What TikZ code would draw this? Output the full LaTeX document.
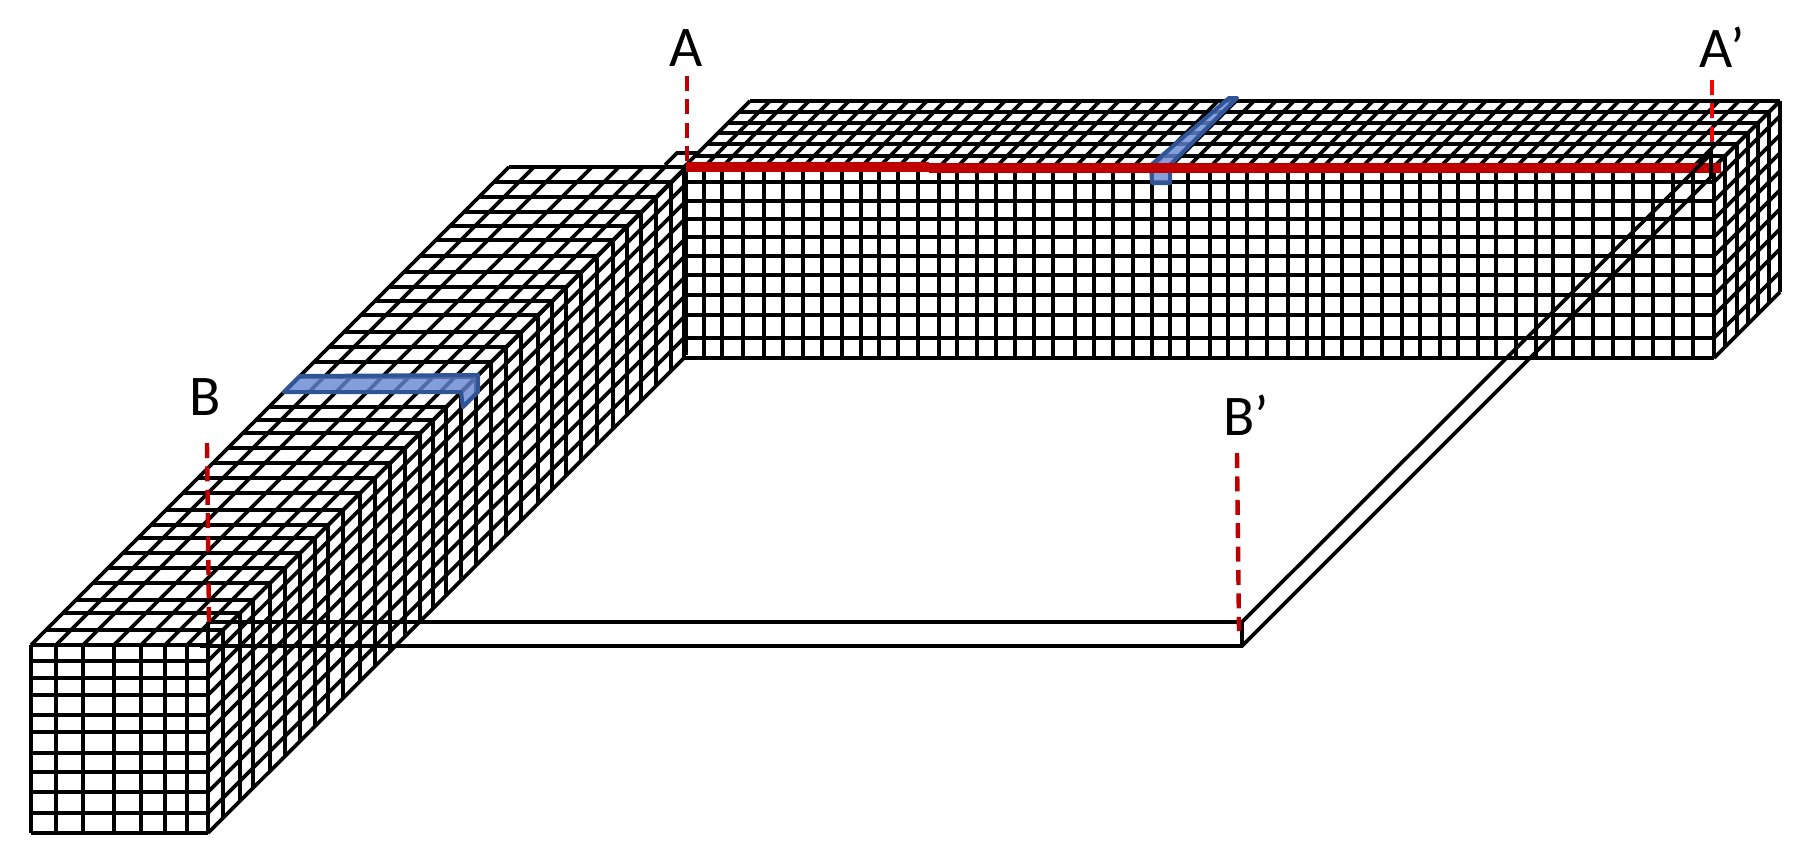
\documentclass[tikz,border=0pt]{standalone}
\usepackage{fontspec}
\setmainfont{Carlito}
\usepackage{xcolor}
\definecolor{cutred}{HTML}{C00000}
\definecolor{markblue}{HTML}{2F5597}
\definecolor{markfill}{HTML}{6486D2}
\tikzset{
	gridline/.style={black,line width=1.85pt},
	cutline/.style={cutred,line width=2.2pt,dash pattern=on 7.5pt off 4.2pt},
	marker/.style={draw=markblue,line width=2pt,fill=markfill,fill opacity=0.8,line join=round},
	lab/.style={anchor=base west,inner sep=0pt,font=\fontsize{28.75pt}{30pt}\selectfont}
}
\begin{document}
\begin{tikzpicture}[x=0.5pt,y=-0.5pt]
	\useasboundingbox (0,0) rectangle (1796,868);
	\foreach \x in {31,56,83,114,141,165,187,208}{
		\draw[gridline] (\x,645) -- (\x,833);
		\draw[gridline] (\x,645) -- ({\x+478},167);
	}
	\foreach \y in {645,661,678,695,715,732,753,772,792,813,833}{
		\draw[gridline] (31,\y) -- (208,\y);
		\draw[gridline] (208,\y) -- (686,{\y-477});
	}
	\foreach \y in {167,182,197,212,226,240,256,272,287,301,315,332,347,362,377,392,407,420,433,448,463,478,493,510,525,538,553,568,583,600,613,630}{
		\draw[gridline] ({676-\y},\y) -- ({853-\y},\y);
		\draw[gridline] ({853-\y},\y) -- ({853-\y},{\y+188});
	}
	\foreach \x in {684,704,722,743,764,783,803,822,842,861,879,898,918,939,957,977,996,1015,1034,1053,1075,1094,1113,1133,1152,1170,1188,1210,1228,1247,1267,1288,1307,1323,1342,1362,1382,1402,1420,1440,1458,1478,1496,1516,1536,1553,1573,1593,1613,1633,1653,1673,1693,1714}{
		\draw[gridline] (\x,167) -- (\x,358);
		\draw[gridline] (\x,167) -- ({\x+66},101);
	}
	\foreach \y in {167,182,201,219,237,256,275,295,315,338,358}{
		\draw[gridline] (684,\y) -- (1714,\y);
		\draw[gridline] (1714,\y) -- (1780,{\y-66});
	}
	\foreach \y in {101,112,123,133,144,156}{
		\draw[gridline] ({851-\y},\y) -- ({1881-\y},\y);
		\draw[gridline] ({1881-\y},\y) -- ({1881-\y},{\y+191});
	}
	\draw[gridline] (665,165) -- (677,153) -- (700,153);
	\draw[marker] (1229,98) -- (1237,98) -- (1170,165) -- (1170,183) -- (1152,183) -- (1151,165) -- cycle;
	\draw[marker] (284,392) -- (300,376) -- (478,375) -- (478,392) -- (463,407) -- (461,392) -- cycle;
	\coordinate (redL) at (686,167);
	\coordinate (redM) at (929,167);
	\coordinate (redN) at (929,168);
	\coordinate (redR) at (1721,168);
	\draw[cutred,line width=5pt] (redL) -- (redM);
	\draw[cutred,line width=5pt] (redN) -- (redR);
	\coordinate (plateA) at (208,622);
	\coordinate (plateB) at (1242,622);
	\coordinate (plateC) at (1242,646);
	\coordinate (plateD) at (200,646);
	\coordinate (plateE) at (1711,154);
	\coordinate (plateF) at (1711,177);
	\draw[gridline] (plateA) -- (plateB) -- (plateE) -- (plateF) -- (plateC) -- (plateD);
	\draw[gridline] (plateA) -- (208,645);
	\draw[gridline] (plateB) -- (plateC);
	\node[lab] (labA) at (669,66) {A};
	\node[lab] (labAp) at (1699,67) {A’};
	\node[lab] (labB) at (189,415) {B};
	\node[lab] (labBp) at (1223,435) {B’};
	\coordinate (cutA) at (687,76);
	\coordinate (endA) at (687,163);
	\coordinate (cutAp) at (1712,80);
	\coordinate (endAp) at (1712,143);
	\coordinate (cutB) at (207,443);
	\coordinate (endB) at (209,622);
	\coordinate (cutBp) at (1237,453);
	\coordinate (endBp) at (1239,631);
	\draw[cutline] (cutA) -- (endA);
	\draw[cutline,red] (cutAp) -- (endAp);
	\draw[cutline] (cutB) -- (endB);
	\draw[cutline] (cutBp) -- (endBp);
\end{tikzpicture}
\end{document}
